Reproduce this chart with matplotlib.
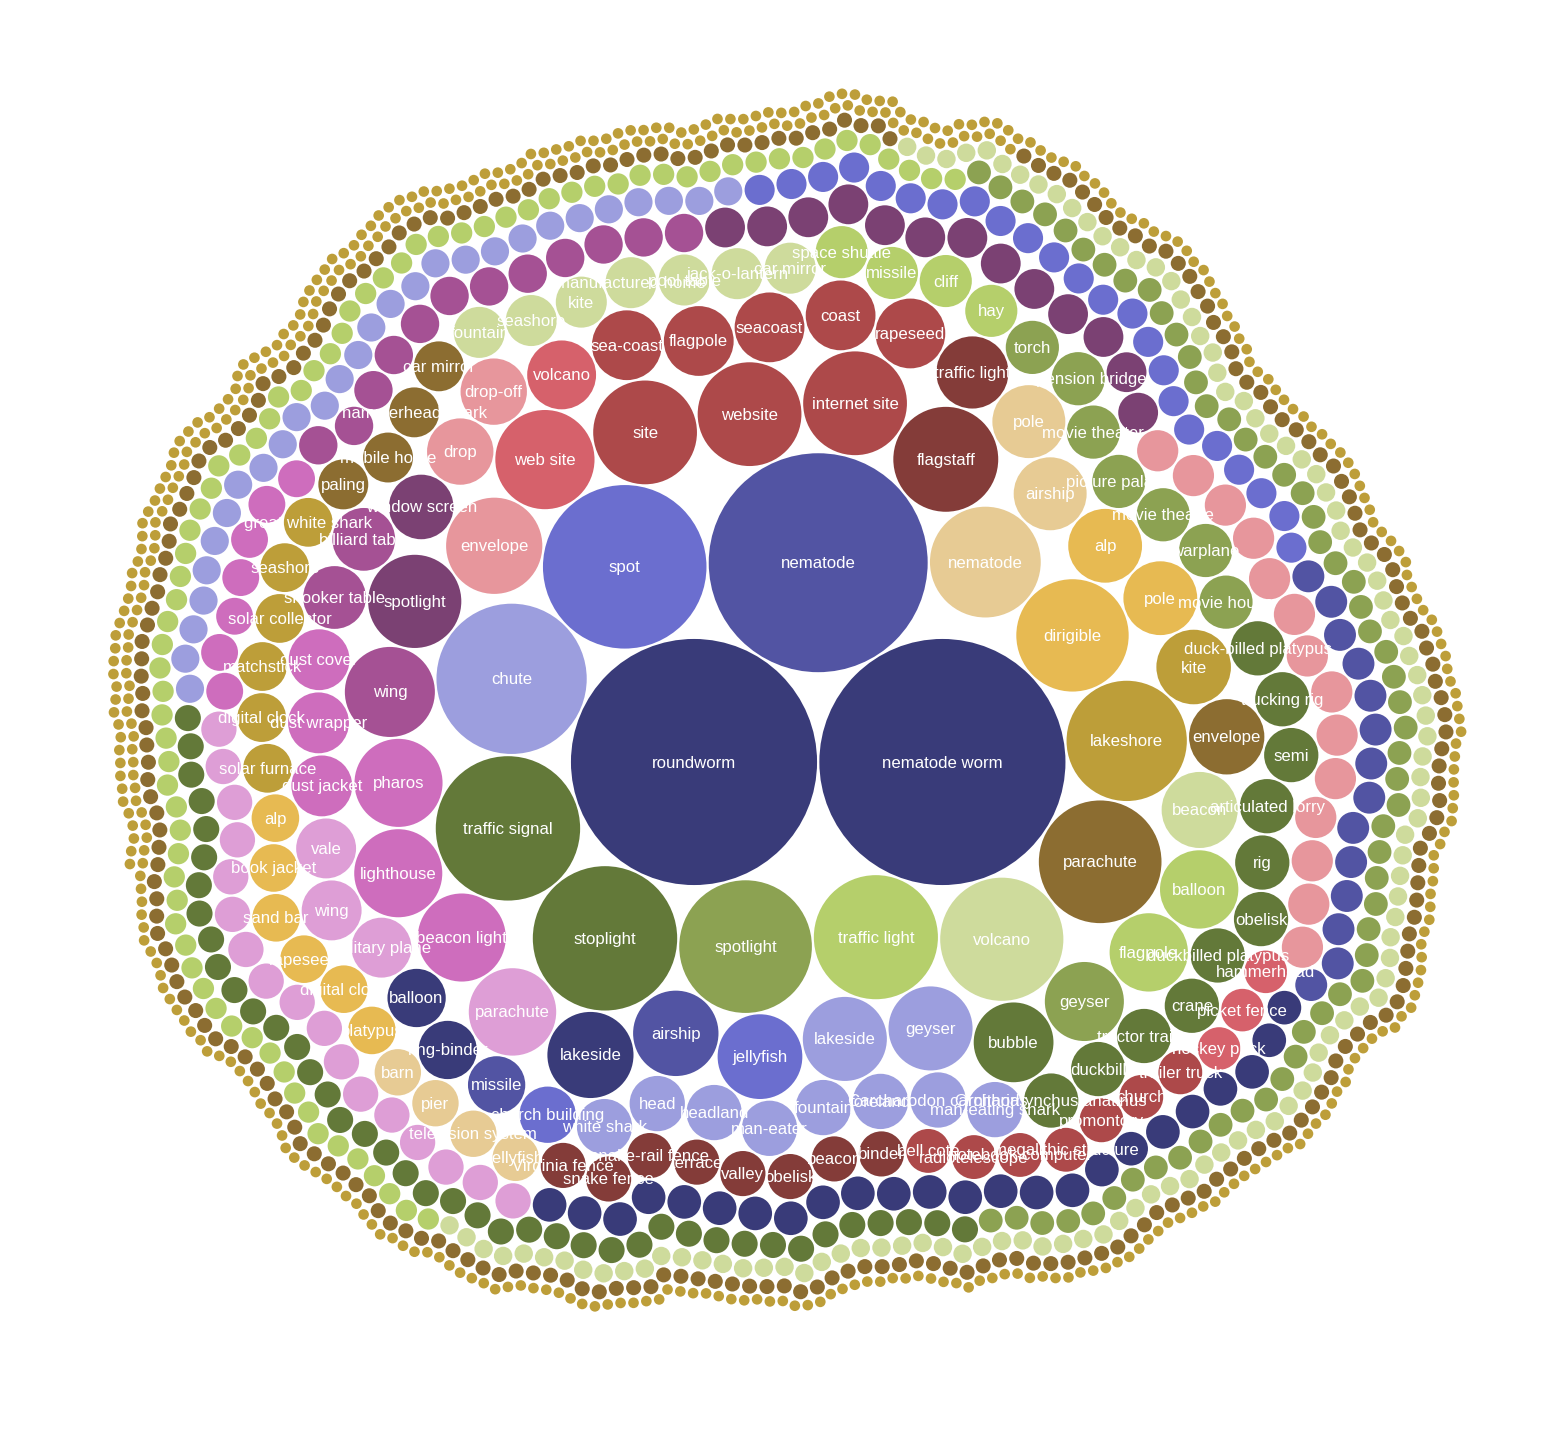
import math
import matplotlib
matplotlib.use("Agg")
import matplotlib.pyplot as plt
from matplotlib.patches import Circle
from matplotlib.collections import PatchCollection

palette = ["#393b79","#5254a3","#6b6ecf","#9c9ede","#637939","#8ca252","#b5cf6b","#cedb9c",
           "#8c6d31","#bd9e39","#e7ba52","#e7cb94","#843c39","#ad494a","#d6616b","#e7969c",
           "#7b4173","#a55194","#ce6dbd","#de9ed6"]

top_names = ["roundworm","nematode worm","nematode","spot","chute","traffic signal","stoplight","spotlight",
             "traffic light","volcano","parachute","lakeshore","dirigible","nematode","flagstaff",
             "internet site","website","site","web site","envelope","spotlight","wing","pharos","lighthouse",
             "beacon light","parachute"]
top_values = [535,535,423.4,236.2,199.4,184.1,184.1,155.4,136,134,132.9,127.8,111.5,108.4,97.2,95.1,95.1,95.1,86.9,81.8,76.7,71.6,68.5,68.5,68.5,67.5]

mid_names = ["lakeside","airship","jellyfish","lakeside","geyser","bubble","geyser","flagpole","balloon","beacon",
             "envelope","kite","pole","alp","airship","pole","traffic light","rapeseed","coast","seacoast",
             "flagpole","sea-coast","volcano","drop-off","drop","window screen","billiard table","snooker table",
             "dust cover","dust wrapper","dust jacket","vale","wing","military plane"]
mid_values = [65.5,64.4,63.4,62.4,62.4,56.2,55.2,54.2,54.2,51.1,50.1,49.1,48.1,48.1,47,47,46,43,43,43,43,43,41.9,38.9,38.9,36.8,34.8,34.8,32.7,32.7,32.7,31.7,31.7,31.7]

low_names = ["balloon","ring-binder","missile","church building","white shark","head","headland","man-eater",
             "fountain","foreland","Carcharodon carcharias","man-eating shark",
             "Ornithorhynchus anatinus","duckbill","tractor trailer","crane","duckbilled platypus","obelisk","rig",
             "articulated lorry","semi","trucking rig","duck-billed platypus",
             "movie house","warplane","movie theatre","picture palace","movie theater","suspension bridge","torch",
             "hay","cliff","missile","space shuttle",
             "car mirror","jack-o-lantern","pool table","manufactured home","kite","seashore","fountain",
             "car mirror","hammerhead shark","mobile home","paling",
             "great white shark","seashore","solar collector","matchstick","digital clock","solar furnace",
             "alp","book jacket","sand bar","rapeseed","digital clock","platypus",
             "barn","pier","television system","jellyfish",
             "Virginia fence","snake fence","snake-rail fence","terrace","valley","obelisk","beacon","binder",
             "bell cote","radiotelescope","notebook computer","megalithic structure","promontory","church","trailer truck",
             "hockey puck","picket fence","hammerhead"]
low_values = [30,30,29,28,27,27,27,27,27,27,27,27,
              26,26,26,26,26,26,26,26,26,26,26,
              25,25,25,25,25,25,25,
              24,24,24,24,
              23,23,23,23,23,23,23,
              22,22,22,22,
              21,21,21,21,21,21,
              20,20,20,20,20,20,
              19,19,19,19,
              18,18,18,18,18,18,18,18,
              17,17,17,17,17,17,17,
              16,16,16]

unlabelled_values = [15,14,13,12,11,10,9,8,7,6,5,4,3,2,1]
unlabelled_counts = [14,13,12,7,17,24,14,23,28,41,57,75,106,224,430]

RADIUS_SCALE = 5.32
PADDING = 2.3
ANCHOR_X, ANCHOR_Y = 694.0, 762.0

names = top_names + mid_names + low_names
values = top_values + mid_values + low_values
for v, n in zip(unlabelled_values, unlabelled_counts):
    names += [""] * n
    values += [v] * n


class Node:
    __slots__ = ("r", "x", "y", "next", "prev")
    def __init__(self, r):
        self.r = r; self.x = 0.0; self.y = 0.0
        self.next = self; self.prev = self


def place(a, b, c):
    db = a.r + c.r
    dx = b.x - a.x
    dy = b.y - a.y
    if db and (dx or dy):
        da = b.r + c.r
        dc = dx * dx + dy * dy
        da *= da
        db *= db
        x = 0.5 + (db - da) / (2 * dc)
        t = db - dc
        y = math.sqrt(max(0.0, 2 * da * (db + dc) - t * t - da * da)) / (2 * dc)
        c.x = a.x + x * dx + y * dy
        c.y = a.y + x * dy - y * dx
    else:
        c.x = a.x + db
        c.y = a.y


def hits(a, b):
    dx = b.x - a.x
    dy = b.y - a.y
    dr = a.r + b.r
    return 0.999 * dr * dr > dx * dx + dy * dy


def insert(a, b):
    c = a.next
    a.next = b; b.prev = a; b.next = c; c.prev = b


def splice(a, b):
    a.next = b; b.prev = a


def pack(nodes):
    a = nodes[0]; a.x = -a.r; a.y = 0.0
    b = nodes[1]; b.x = b.r; b.y = 0.0
    c = nodes[2]
    place(a, b, c)
    insert(a, c)
    a.prev = c
    insert(c, b)
    b = a.next
    i = 3
    n = len(nodes)
    while i < n:
        c = nodes[i]
        place(a, b, c)
        isect = False
        s1 = 1; s2 = 1
        j = b.next
        while j is not b:
            if hits(j, c):
                isect = True
                break
            j = j.next; s1 += 1
        k = None
        if isect:
            k = a.prev
            while k is not j.prev:
                if hits(k, c):
                    break
                k = k.prev; s2 += 1
        if isect:
            if s1 < s2 or (s1 == s2 and b.r < a.r):
                b = j
                splice(a, b)
            else:
                a = k
                splice(a, b)
        else:
            insert(a, c)
            b = c
            i += 1


radii = [RADIUS_SCALE * math.sqrt(v) for v in values]
nodes = [Node(r + PADDING / 2) for r in radii]
pack(nodes)
ox = ANCHOR_X - nodes[0].x
oy = ANCHOR_Y - nodes[0].y

ranks = {v: i for i, v in enumerate(sorted(set(values), reverse=True))}
colors = [palette[ranks[v] % len(palette)] for v in values]

plt.rcParams["font.family"] = ["Liberation Sans", "DejaVu Sans"]
fig = plt.figure(figsize=(15.5, 14.56), dpi=100, facecolor="white")
ax = fig.add_axes([0, 0, 1, 1])
ax.set_xlim(0, 1550)
ax.set_ylim(1456, 0)
ax.axis("off")

patches = [Circle((nd.x + ox, nd.y + oy), r) for nd, r in zip(nodes, radii)]
ax.add_collection(PatchCollection(patches, facecolors=colors, edgecolors="none", zorder=1))
for nd, name in zip(nodes, names):
    if name:
        ax.text(nd.x + ox, nd.y + oy + 1, name, color="white", fontsize=12.1, ha="center",
                va="center", zorder=2)
fig.savefig("out.png", dpi=100, facecolor="white")
